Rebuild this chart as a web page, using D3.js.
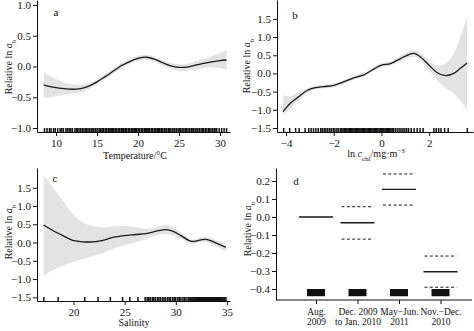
<!DOCTYPE html>
<html lang="en">
<head>
<meta charset="UTF-8">
<title>Relative ln a_b partial effects</title>
<script src="https://d3js.org/d3.v7.min.js"></script>
<style>
  body { margin: 0; background: #fff; }
  svg text { font-family: 'Liberation Serif', 'Times New Roman', serif; fill: #111; }
  .axis text { font-size: 11px; }
  .axis path, .axis line { stroke: #111; }
</style>
</head>
<body>
<script>
// ---- panel a: temperature ----
const tempX   = [8.5, 9, 10, 11, 12, 13, 14, 15, 16, 17, 18, 19, 20, 21, 22, 23, 24, 25, 26, 27, 28, 29, 30, 30.8];
const tempFit = [-0.30, -0.32, -0.345, -0.36, -0.37, -0.36, -0.32, -0.25, -0.165, -0.075, 0.015, 0.08, 0.13, 0.15, 0.12, 0.06, 0.01, -0.015, -0.01, 0.02, 0.05, 0.075, 0.095, 0.105];
const tempUp  = [-0.08, -0.13, -0.205, -0.26, -0.295, -0.30, -0.27, -0.21, -0.125, -0.035, 0.055, 0.12, 0.17, 0.19, 0.16, 0.10, 0.055, 0.035, 0.045, 0.08, 0.12, 0.165, 0.215, 0.265];
const tempLo  = [-0.52, -0.51, -0.485, -0.46, -0.445, -0.42, -0.37, -0.29, -0.205, -0.115, -0.025, 0.04, 0.09, 0.11, 0.08, 0.02, -0.035, -0.065, -0.065, -0.04, -0.02, -0.015, -0.025, -0.055];
const tempRug = [8.6, 8.9, 9.2, 9.4, 9.7, 9.9, 10.2, 10.5, 10.7, 10.9, 11.2, 11.4, 11.6, 11.8, 12.0, 12.3, 12.5, 12.6, 12.8, 13.0,
  13.2, 13.4, 13.6, 13.7, 13.9, 14.1, 14.3, 14.5, 14.6, 14.8, 15.0, 15.1, 15.3, 15.4, 15.6, 15.7, 15.8, 16.0, 16.1, 16.2,
  16.4, 16.5, 16.6, 16.8, 16.9, 17.0, 17.2, 17.3, 17.4, 17.6, 17.7, 17.8, 18.0, 18.1, 18.2, 18.4, 18.5, 18.6, 18.8, 18.9,
  19.0, 19.2, 19.3, 19.4, 19.6, 19.7, 19.8, 20.0, 20.1, 20.2, 20.4, 20.5, 20.6, 20.8, 20.9, 21.0, 21.2, 21.3, 21.4, 21.6,
  21.7, 21.8, 22.0, 22.1, 22.2, 22.4, 22.5, 22.6, 22.8, 22.9, 23.0, 23.2, 23.3, 23.5, 23.7, 23.8, 24.0, 24.2, 24.4, 24.5,
  24.7, 24.9, 25.1, 25.2, 25.4, 25.6, 25.8, 25.9, 26.1, 26.3, 26.5, 26.6, 26.8, 27.0, 27.2, 27.3, 27.5, 27.7, 27.9, 28.0,
  28.2, 28.4, 28.6, 28.7, 28.9, 29.1, 29.3, 29.4, 29.6, 29.9, 30.2, 30.5, 30.8];

// ---- panel b: ln chlorophyll ----
const chlX   = [-4.13, -3.82, -3.47, -3.12, -2.77, -2.42, -2.0, -1.58, -1.16, -0.74, -0.32, 0, 0.38, 0.8, 1.15, 1.36, 1.64, 1.99, 2.34, 2.69, 3.03, 3.31, 3.59];
const chlFit = [-1.05, -0.82, -0.64, -0.47, -0.39, -0.36, -0.33, -0.23, -0.12, -0.04, 0.12, 0.23, 0.27, 0.41, 0.52, 0.55, 0.45, 0.23, 0.02, -0.06, 0.0, 0.14, 0.29];
const chlUp  = [-0.60, -0.62, -0.53, -0.41, -0.34, -0.31, -0.28, -0.18, -0.07, 0.01, 0.17, 0.28, 0.33, 0.48, 0.61, 0.65, 0.56, 0.36, 0.22, 0.28, 0.55, 1.0, 1.55];
const chlLo  = [-1.15, -0.97, -0.75, -0.53, -0.44, -0.41, -0.38, -0.28, -0.17, -0.09, 0.07, 0.18, 0.21, 0.34, 0.43, 0.45, 0.34, 0.10, -0.18, -0.40, -0.55, -0.75, -1.0];
const chlRug = [-4.1, -3.85, -3.6, -3.45, -3.2, -3.05, -2.95, -2.85, -2.75, -2.65, -2.55, -2.48, -2.4, -2.33, -2.25, -2.17, -2.1,
  -2.02, -1.95, -1.87, -1.8, -1.72, -1.66, -1.61, -1.55, -1.5, -1.45, -1.4, -1.35, -1.3, -1.25, -1.2, -1.15, -1.1, -1.05,
  -1.0, -0.95, -0.9, -0.85, -0.8, -0.75, -0.7, -0.65, -0.6, -0.55, -0.5, -0.45, -0.4, -0.35, -0.3, -0.25, -0.2, -0.15,
  -0.1, -0.05, 0.0, 0.05, 0.1, 0.15, 0.2, 0.25, 0.3, 0.35, 0.4, 0.45, 0.5, 0.58, 0.66, 0.74, 0.82, 0.9, 0.98, 1.06, 1.14,
  1.25, 1.37, 1.5, 1.62, 1.75, 2.2, 2.3, 2.4, 2.5, 2.65, 2.8, 3.6];

// ---- panel c: salinity ----
const salX   = [17.07, 17.98, 18.96, 19.93, 20.9, 21.9, 22.87, 23.84, 24.9, 26.1, 27.1, 28.08, 29.06, 29.7, 30.5, 31.3, 31.8, 32.6, 33.1, 33.9, 34.9];
const salFit = [0.48, 0.33, 0.19, 0.06, 0.02, 0.02, 0.06, 0.14, 0.19, 0.22, 0.245, 0.31, 0.355, 0.31, 0.19, 0.055, 0.03, 0.08, 0.08, -0.01, -0.13];
const salUp  = [1.85, 1.5, 1.15, 0.78, 0.55, 0.46, 0.42, 0.44, 0.46, 0.42, 0.37, 0.42, 0.48, 0.42, 0.28, 0.12, 0.08, 0.15, 0.15, 0.07, -0.04];
const salLo  = [-0.9, -0.76, -0.63, -0.54, -0.45, -0.37, -0.29, -0.17, -0.08, 0.01, 0.1, 0.19, 0.24, 0.19, 0.1, -0.01, -0.04, 0.03, 0.01, -0.1, -0.24];
const salRug = [17.1, 18.5, 21.1, 22.4, 23.6, 24.8, 25.5, 26.3, 27.0, 27.2, 27.35, 27.5, 27.7, 27.85, 28.0, 28.2, 28.35, 28.5,
  28.7, 28.85, 29.0, 29.2, 29.35, 29.5, 29.7, 29.85, 30.0, 30.2, 30.35, 30.5, 30.7, 30.85, 31.0, 31.2, 31.3, 31.4, 31.5,
  31.6, 31.7, 31.8, 31.9, 32.0, 32.1, 32.2, 32.3, 32.4, 32.5, 32.6, 32.7, 32.8, 32.9, 33.0, 33.1, 33.2, 33.3, 33.4, 33.5,
  33.6, 33.7, 33.8, 33.9, 34.0, 34.1, 34.2, 34.3, 34.4, 34.5, 34.6, 34.7, 34.8, 34.9];

// ---- panel d: sampling period ----
const periods      = ["Aug. 2009", "Dec. 2009 to Jan. 2010", "May−Jun. 2011", "Nov.−Dec. 2010"];
const periodLines  = [["Aug.", "2009"], ["Dec. 2009", "to Jan. 2010"], ["May−Jun.", "2011"], ["Nov.−Dec.", "2010"]];
const periodFit    = [0, -0.032, 0.153, -0.304];
const periodUp     = [null, 0.057, 0.239, -0.217];
const periodLo     = [null, -0.123, 0.066, -0.39];

const svg = d3.select("body").append("svg")
  .attr("width", 474).attr("height", 331)
  .style("background", "#fff");

const fmt1 = d3.format(".1f");

function yTitle(x, y) {
  const t = svg.append("text")
    .attr("transform", `translate(${x},${y}) rotate(-90)`)
    .attr("text-anchor", "middle")
    .attr("dy", "0.35em")
    .style("font-size", "10px");
  t.append("tspan").text("Relative ln ");
  t.append("tspan").style("font-style", "italic").text("a");
  t.append("tspan").attr("baseline-shift", "sub").style("font-size", "7px").text("b");
}

function panelLetter(x, y, s) {
  svg.append("text").attr("x", x).attr("y", y).attr("dy", "0.35em")
    .attr("text-anchor", "middle").style("font-size", "11px").text(s);
}

function smoothPanel(c) {
  const x = d3.scaleLinear().domain(c.xDomain).range([c.left, c.right]);
  const y = d3.scaleLinear().domain(c.yDomain).range([c.bottom, c.top]);
  const rows = c.xs.map((v, i) => ({ x: v, fit: c.fit[i], up: c.up[i], lo: c.lo[i] }));

  svg.append("path").datum(rows)
    .attr("fill", "#e3e3e3")
    .attr("d", d3.area().x(d => x(d.x)).y0(d => y(d.lo)).y1(d => y(d.up)).curve(d3.curveCatmullRom));

  svg.append("path").datum(rows)
    .attr("fill", "none").attr("stroke", "#1a1a1a").attr("stroke-width", 1.3)
    .attr("d", d3.line().x(d => x(d.x)).y(d => y(d.fit)).curve(d3.curveCatmullRom));

  // rug of observations along the bottom
  svg.append("g").selectAll("line").data(c.rug).join("line")
    .attr("x1", d => x(d)).attr("x2", d => x(d))
    .attr("y1", c.bottom).attr("y2", c.bottom - 4)
    .attr("stroke", "#111").attr("stroke-width", 1.5);

  svg.append("g").attr("class", "axis")
    .attr("transform", `translate(${c.left},0)`)
    .call(d3.axisLeft(y).tickValues(c.yTicks).tickFormat(fmt1).tickSize(4).tickPadding(2).tickSizeOuter(0));

  svg.append("g").attr("class", "axis")
    .attr("transform", `translate(0,${c.bottom})`)
    .call(d3.axisBottom(x).tickValues(c.xTicks).tickFormat(d3.format("d")).tickSize(4).tickPadding(3).tickSizeOuter(0));
}

// a
smoothPanel({
  left: 37, right: 230, top: 0, bottom: 132,
  xDomain: [7.68, 31.22], yDomain: [-1.065, 1.08],
  xTicks: [10, 15, 20, 25, 30], yTicks: [-1, -0.5, 0, 0.5, 1],
  xs: tempX, fit: tempFit, up: tempUp, lo: tempLo, rug: tempRug
});
yTitle(8, 67);
panelLetter(56, 12, "a");
svg.append("text").attr("x", 135).attr("y", 159).attr("text-anchor", "middle")
  .style("font-size", "10px").text("Temperature/°C");

// b
smoothPanel({
  left: 277, right: 473, top: 0, bottom: 132,
  xDomain: [-4.38, 3.84], yDomain: [-1.61, 2.02],
  xTicks: [-4, -2, 0, 2], yTicks: [-1.5, -1, -0.5, 0, 0.5, 1, 1.5],
  xs: chlX, fit: chlFit, up: chlUp, lo: chlLo, rug: chlRug
});
yTitle(246, 66);
panelLetter(295, 15, "b");
{
  const t = svg.append("text").attr("x", 376).attr("y", 157).attr("text-anchor", "middle")
    .style("font-size", "10px");
  t.append("tspan").text("ln ");
  t.append("tspan").style("font-style", "italic").text("c");
  t.append("tspan").attr("baseline-shift", "sub").style("font-size", "7px").text("chl");
  t.append("tspan").text("/mg·m");
  t.append("tspan").attr("baseline-shift", "super").style("font-size", "7px").text("−3");
}

// c
smoothPanel({
  left: 37, right: 230, top: 168, bottom: 301,
  xDomain: [16.43, 35.3], yDomain: [-1.6, 2.04],
  xTicks: [20, 25, 30, 35], yTicks: [-1.5, -1, -0.5, 0, 0.5, 1, 1.5],
  xs: salX, fit: salFit, up: salUp, lo: salLo, rug: salRug
});
yTitle(8, 232);
panelLetter(55, 178, "c");
svg.append("text").attr("x", 134).attr("y", 326).attr("text-anchor", "middle")
  .style("font-size", "10px").text("Salinity");

// d
{
  const left = 276, right = 472, top = 168, bottom = 300;
  const x = d3.scalePoint().domain(periods).range([316, 440.5]);
  const y = d3.scaleLinear().domain([-0.461, 0.272]).range([bottom, top]);
  const rows = periods.map((p, i) => ({ p, fit: periodFit[i], up: periodUp[i], lo: periodLo[i] }));

  svg.append("g").selectAll("rect").data(rows).join("rect")
    .attr("x", d => x(d.p) - 9).attr("width", 18)
    .attr("y", y(-0.40)).attr("height", y(-0.44) - y(-0.40))
    .attr("fill", "#111");

  svg.append("g").selectAll("line").data(rows).join("line")
    .attr("x1", d => x(d.p) - 17).attr("x2", d => x(d.p) + 17)
    .attr("y1", d => y(d.fit)).attr("y2", d => y(d.fit))
    .attr("stroke", "#1a1a1a").attr("stroke-width", 1.3);

  const ci = [];
  rows.forEach(d => { if (d.up != null) { ci.push({ p: d.p, v: d.up }); ci.push({ p: d.p, v: d.lo }); } });
  svg.append("g").selectAll("line").data(ci).join("line")
    .attr("x1", d => x(d.p) - 16).attr("x2", d => x(d.p) + 16)
    .attr("y1", d => y(d.v)).attr("y2", d => y(d.v))
    .attr("stroke", "#1a1a1a").attr("stroke-width", 1)
    .attr("stroke-dasharray", "3,2.3");

  svg.append("g").attr("class", "axis")
    .attr("transform", `translate(${left},0)`)
    .call(d3.axisLeft(y).tickValues([-0.4, -0.3, -0.2, -0.1, 0, 0.1, 0.2]).tickFormat(fmt1)
      .tickSize(4).tickPadding(2).tickSizeOuter(0));

  const xa = svg.append("g").attr("class", "axis")
    .attr("transform", `translate(0,${bottom})`)
    .call(d3.axisBottom(x).tickSize(4).tickPadding(4).tickSizeOuter(0));
  xa.select(".domain").remove();
  xa.append("line").attr("x1", left).attr("x2", right).attr("stroke", "#111");
  xa.selectAll(".tick text").style("font-size", "9.5px").each(function (d, i) {
    const t = d3.select(this).text(null);
    periodLines[i].forEach((s, k) => {
      t.append("tspan").attr("x", 0).attr("dy", k === 0 ? "0.71em" : "1.05em").text(s);
    });
  });

  yTitle(247, 229);
  panelLetter(296, 181, "d");
}
</script>
</body>
</html>
